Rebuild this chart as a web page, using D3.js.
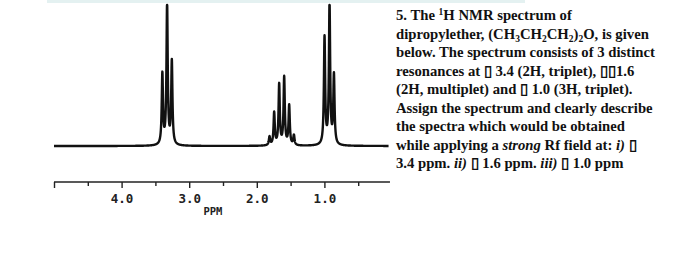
<!DOCTYPE html>
<html>
<head>
<meta charset="utf-8">
<script src="https://cdn.jsdelivr.net/npm/d3@7"></script>
<style>
  body { margin: 0; background: #fff; }
  svg { display: block; }
</style>
</head>
<body>
<svg id="nmr" width="700" height="258"></svg>
<script>
// peak lists (ppm, relative height; tallest lines hit the top)
var tripletA = [[3.397, 0.50], [3.327, 1.00], [3.257, 0.59]];
var multiplet = [[1.812, 0.06], [1.743, 0.23], [1.669, 0.43], [1.595, 0.48], [1.521, 0.28], [1.451, 0.07]];
var tripletC = [[0.998, 0.76], [0.924, 1.00], [0.859, 0.49]];

var majorTicks = [4.0, 3.0, 2.0, 1.0];
var allTicks = [5.0, 4.5, 4.0, 3.5, 3.0, 2.5, 2.0, 1.5, 1.0, 0.5];

var questionLines = [
    [["5. The ", ""], ["1", "sup"], ["H NMR spectrum of", ""]],
    [["dipropylether, (CH", ""], ["3", "sub"], ["CH", ""], ["2", "sub"], ["CH", ""], ["2", "sub"], [")", ""], ["2", "sub"], ["O, is given", ""]],
    [["below. The spectrum consists of 3 distinct", ""]],
    [["resonances at \u25AF 3.4 (2H, triplet), \u25AF\u25AF1.6", ""]],
    [["(2H, multiplet) and \u25AF 1.0 (3H, triplet).", ""]],
    [["Assign the spectrum and clearly describe", ""]],
    [["the spectra which would be obtained", ""]],
    [["while applying a ", ""], ["strong", "i"], [" Rf field at: ", ""], ["i)", "i"], [" \u25AF", ""]],
    [["3.4 ppm. ", ""], ["ii)", "i"], [" \u25AF 1.6 ppm. ", ""], ["iii)", "i"], [" \u25AF 1.0 ppm", ""]]
];

var svg = d3.select('#nmr');

// faint strip along the top edge of the scan
svg.append('rect')
    .attr('x', 47).attr('y', 0)
    .attr('width', 478).attr('height', 3)
    .attr('fill', '#e4f1f1');

var x = d3.scaleLinear().domain([5.0, 0.0]).range([54, 392]);
var y = d3.scaleLinear().domain([0, 1]).range([146, 5]);

var peaks = tripletA.concat(multiplet, tripletC);
var gamma = 0.011;

// spectrum trace: lorentzian lines on the peak list
var pts = d3.range(5.0, 0.05, -0.001).map(function (p) {
    var s = 0;
    peaks.forEach(function (pk) {
        var d = p - pk[0];
        s += pk[1] * gamma * gamma / (gamma * gamma + d * d);
    });
    return [p, s];
});

var line = d3.line()
    .x(d => x(d[0]))
    .y(d => y(Math.min(d[1], 1)));

svg.append('path')
    .datum(pts)
    .attr('d', line)
    .attr('fill', 'none')
    .attr('stroke', '#111')
    .attr('stroke-width', 2.4)
    .attr('stroke-linejoin', 'round');

// ppm axis
var axisY = 182;
var axis = d3.axisBottom(x)
    .tickValues(allTicks)
    .tickSize(0)
    .tickFormat('');

var ax = svg.append('g')
    .attr('transform', 'translate(0,' + axisY + ')')
    .call(axis);
ax.select('.domain').remove();

ax.append('line')
    .attr('x1', x(5.0)).attr('x2', x(0.03))
    .attr('stroke', '#222').attr('stroke-width', 1.6);

ax.selectAll('.tick').append('line')
    .attr('y2', d => majorTicks.indexOf(d) >= 0 || d === 5.0 ? 6 : 4)
    .attr('stroke', '#222').attr('stroke-width', 1.4);

ax.selectAll('.tick').filter(d => majorTicks.indexOf(d) >= 0)
    .append('text')
    .attr('y', 21)
    .attr('fill', '#222')
    .attr('text-anchor', 'middle')
    .style('font', 'bold 12.5px "DejaVu Sans Mono", monospace')
    .text(d => d.toFixed(1));

svg.append('text')
    .attr('x', x(2.65))
    .attr('y', 215)
    .attr('text-anchor', 'middle')
    .attr('fill', '#222')
    .style('font', 'bold 10.5px "DejaVu Sans Mono", monospace')
    .text('PPM');

// question text
var txt = svg.append('g')
    .style('font-family', '"Liberation Serif", "Times New Roman", serif')
    .style('font-weight', 'bold')
    .style('font-size', '14.7px')
    .attr('fill', '#111');

var shift = { '': 0, i: 0, sub: 3, sup: -5 };

questionLines.forEach(function (parts, i) {
    var t = txt.append('text')
        .attr('x', 396)
        .attr('y', 20 + i * 18.5);
    var cur = 0;
    parts.forEach(function (p) {
        var s = t.append('tspan').text(p[0]);
        var off = shift[p[1]];
        if (off !== cur) s.attr('dy', off - cur);
        cur = off;
        if (p[1] === 'sub' || p[1] === 'sup') s.style('font-size', '9.5px');
        if (p[1] === 'i') s.style('font-style', 'italic');
    });
});
</script>
</body>
</html>
